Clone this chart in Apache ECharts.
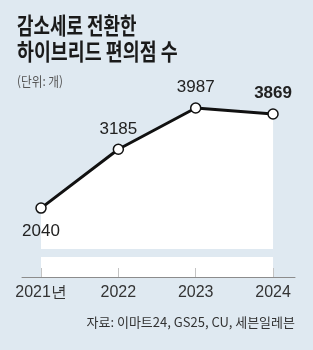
<!DOCTYPE html>
<html>
<head>
<meta charset="utf-8">
<script src="https://cdn.jsdelivr.net/npm/echarts@6/dist/echarts.min.js"></script>
<style>
    html, body { margin: 0; padding: 0; background: #dfe9f1; }
    #main { width: 313px; height: 350px; }
</style>
</head>
<body>
<div id="main"></div>
<script>
    // data
    var years = [2021, 2022, 2023, 2024];
    var yearLabels = ['2021년', '2022', '2023', '2024'];
    var stores = [2040, 3185, 3987, 3869];
    var labelPos = ['bottom', 'top', 'top', 'top'];
    var bandFrom = 1090, bandTo = 1245;
    var bg = '#dfe9f1';

    var dom = document.getElementById('main');
    var myChart = echarts.init(dom);

    var seriesData = years.map(function (y, i) {
        var last = i == years.length - 1;
        return {
            value: [y, stores[i]],
            label: {
                position: labelPos[i],
                distance: labelPos[i] == 'bottom' ? 9 : 6,
                fontWeight: last ? 'bold' : 'normal'
            }
        };
    });

    var option = {
        backgroundColor: bg,
        animation: false,
        graphic: [
            {
                type: 'text', x: 17, y: 14, scaleX: 0.78,
                style: { text: '감소세로 전환한', font: 'bold 23px "Noto Sans CJK KR"', fill: '#1a1a1a' }
            },
            {
                type: 'text', x: 17, y: 40, scaleX: 0.8,
                style: { text: '하이브리드 편의점 수', font: 'bold 23px "Noto Sans CJK KR"', fill: '#1a1a1a' }
            },
            {
                type: 'text', x: 17, y: 75, scaleX: 0.9,
                style: { text: '(단위: 개)', font: '13px "Noto Sans CJK KR"', fill: '#555' }
            },
            {
                type: 'text', right: 18, top: 316,
                style: { text: '자료: 이마트24, GS25, CU, 세븐일레븐', font: '13px "Noto Sans CJK KR"', fill: '#333' }
            }
        ],
        grid: {
            left: 22,
            right: 18,
            top: 97,
            bottom: 73
        },
        xAxis: {
            type: 'value',
            z: 5,
            min: 2020.754,
            max: 2024.284,
            splitLine: { show: false },
            axisLine: { show: true, lineStyle: { color: '#8c8c8c', width: 1 } },
            axisTick: {
                show: true,
                inside: true,
                length: 9,
                customValues: years,
                lineStyle: { color: '#c4c4c4', width: 1 }
            },
            axisLabel: {
                customValues: years,
                margin: 8,
                fontSize: 16,
                fontFamily: 'Liberation Sans',
                color: '#333',
                formatter: function (v) {
                    return yearLabels[years.indexOf(v)];
                }
            }
        },
        yAxis: {
            type: 'value',
            min: 700,
            max: 4200,
            show: false,
            splitLine: { show: false }
        },
        series: [{
            type: 'line',
            data: seriesData,
            symbol: 'circle',
            symbolSize: 10,
            lineStyle: { color: '#111', width: 3 },
            itemStyle: { color: '#fff', borderColor: '#111', borderWidth: 1.5 },
            areaStyle: { color: '#fff', opacity: 1, origin: 'start' },
            label: {
                show: true,
                fontSize: 17,
                fontFamily: 'Liberation Sans',
                color: '#222'
            },
            // light band across the white area
            markArea: {
                z: 10,
                silent: true,
                itemStyle: { color: bg, opacity: 1 },
                label: { show: false },
                data: [[
                    { coord: [years[0], bandFrom] },
                    { coord: [years[years.length - 1], bandTo] }
                ]]
            },
            z: 2
        }]
    };
    myChart.setOption(option);
</script>
</body>
</html>
